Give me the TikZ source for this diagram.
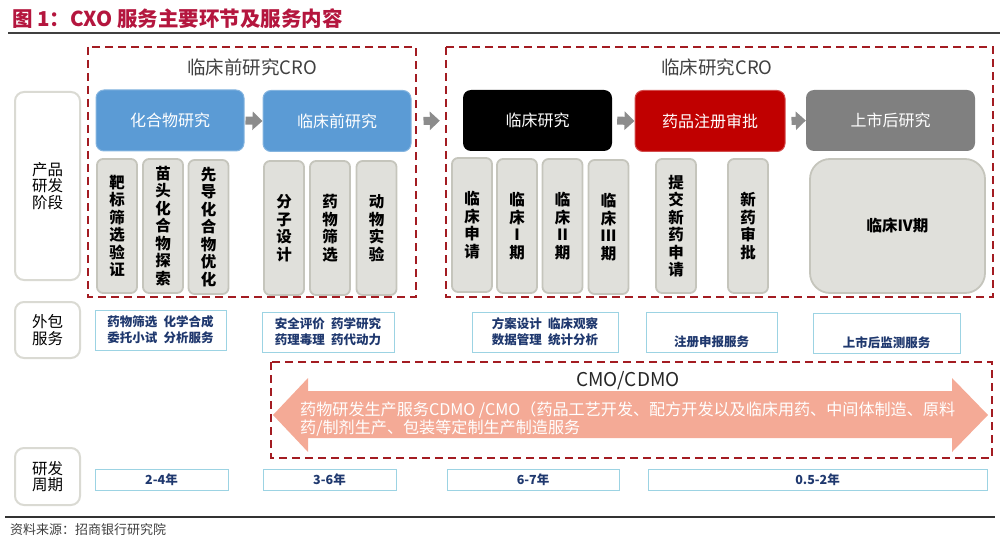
\documentclass[tikz,border=0pt]{standalone}
\usepackage{fontspec}
\setmainfont{Noto Sans CJK SC}
\usetikzlibrary{arrows.meta}
\definecolor{titlered}{RGB}{180,22,62}
\definecolor{stageblue}{RGB}{91,155,213}
\definecolor{stagered}{RGB}{192,0,0}
\definecolor{stagegray}{RGB}{128,128,128}
\definecolor{vfill}{RGB}{224,224,219}
\definecolor{vborder}{RGB}{197,197,188}
\definecolor{lborder}{RGB}{218,218,211}
\definecolor{oborder}{RGB}{156,211,227}
\definecolor{navy}{RGB}{31,56,110}
\definecolor{dashred}{RGB}{163,28,34}
\definecolor{salmon}{RGB}{244,170,150}
\definecolor{arrowgray}{RGB}{140,140,140}
\definecolor{darktext}{RGB}{64,64,64}
\tikzset{
  stagebox/.style={rounded corners=8pt, minimum width=#1, minimum height=61pt, inner sep=0pt, text=white, font=\fontsize{16}{18}\selectfont},
  vbox/.style={rounded corners=6pt, fill=vfill, draw=vborder, line width=1.8pt, minimum width=40pt, minimum height=134pt, inner sep=0pt, align=center, font=\fontsize{15.5}{17.5}\selectfont\bfseries, text=black},
  lbox/.style={rounded corners=9pt, fill=white, draw=lborder, line width=2pt, minimum width=65pt, inner sep=0pt, align=center, font=\fontsize{15.5}{16.5}\selectfont, text=black},
  obox/.style={draw=oborder, line width=1pt, fill=white, minimum width=#1, minimum height=40pt, inner sep=0pt},
  otext/.style={align=left, font=\fontsize{12.5}{16}\selectfont\bfseries, text=navy, inner sep=0pt},
  pbox/.style={draw=oborder, line width=1pt, fill=white, minimum width=#1, minimum height=21pt, inner sep=0pt, font=\fontsize{12.5}{14}\selectfont\bfseries, text=navy},
  dbox/.style={draw=dashred, line width=2.2pt, dash pattern=on 8pt off 5pt},
  garrow/.style={draw=arrowgray, line width=8pt, -{Triangle[length=10pt,width=18pt]}},
  grouptitle/.style={font=\fontsize{18.5}{20}\selectfont, text=darktext, inner sep=0pt}
}
\begin{document}
\begin{tikzpicture}[x=1pt,y=-1pt]
\useasboundingbox (0,0) rectangle (1000,540);
% title
\node[anchor=west, inner sep=0pt, font=\fontsize{20.5}{22}\selectfont\bfseries, text=titlered] (title) at (12,19) {图 1：CXO 服务主要环节及服务内容};
\draw[line width=2pt, draw=darktext] (8,33) -- (1000,33);
% dashed groups
\draw[dbox] (88,47) rectangle (416,297);
\draw[dbox] (446,47) rectangle (993,297);
\draw[dbox] (271,362) rectangle (992,458);
\node[grouptitle] (g1) at (252,67) {临床前研究CRO};
\node[grouptitle] (g2) at (717,67) {临床研究CRO};
% left labels
\node[lbox, minimum height=188pt] (l1) at (47.5,186) {产品\\研发\\阶段};
\node[lbox, minimum height=56pt] (l2) at (47.5,330) {外包\\服务};
\node[lbox, minimum height=57pt] (l3) at (47.5,476.5) {研发\\周期};
% stage boxes
\node[stagebox=148pt, fill=stageblue, draw=stageblue!75!white, line width=1pt] (s1) at (170,120.5) {化合物研究};
\node[stagebox=148pt, fill=stageblue, draw=stageblue!75!white, line width=1pt] (s2) at (337,121) {临床前研究};
\node[stagebox=149pt, fill=black] (s3) at (537.5,120.5) {临床研究};
\node[stagebox=150pt, fill=stagered, draw=stagered!70!white, line width=1pt] (s4) at (710,121) {药品注册审批};
\node[stagebox=169pt, fill=stagegray] (s5) at (890.5,120.5) {上市后研究};
% arrows between stages
\draw[garrow] ([xshift=1pt]s1.east) -- (s2.west);
\draw[garrow, shorten <=12pt, shorten >=23pt] (s2.east) -- (s3.west);
\draw[garrow, shorten <=5pt] (s3.east) -- (s4.west);
\draw[garrow, shorten <=6pt] (s4.east) -- (s5.west);
% vertical boxes left
\node[vbox] (v1) at (117,226) {靶\\标\\筛\\选\\验\\证};
\node[vbox] (v2) at (163,226) {苗\\头\\化\\合\\物\\探\\索};
\node[vbox] (v3) at (208.5,227) {先\\导\\化\\合\\物\\优\\化};
\node[vbox] (v4) at (284,228) {分\\子\\设\\计};
\node[vbox] (v5) at (330,228) {药\\物\\筛\\选};
\node[vbox] (v6) at (376.5,228) {动\\物\\实\\验};
% vertical boxes right
\node[vbox] (v7) at (472,225) {临\\床\\申\\请};
\node[vbox] (v8) at (517,226) {临\\床\\I\\期};
\node[vbox] (v9) at (562.5,226) {临\\床\\II\\期};
\node[vbox] (v10) at (608.5,227) {临\\床\\III\\期};
\node[vbox] (v11) at (676,226) {提\\交\\新\\药\\申\\请};
\node[vbox] (v12) at (748,226) {新\\药\\审\\批};
\node[vbox, rounded corners=20pt, minimum width=175pt] (v13) at (897.5,226) {临床IV期};
% outsourcing
\node[obox=131pt] (o1) at (160.5,330) {};
\node[otext] at (o1.center) {药物筛选\enspace 化学合成\\委托小试\enspace 分析服务};
\node[obox=132pt] (o2) at (328,332) {};
\node[otext] at (o2.center) {安全评价\enspace 药学研究\\药理毒理\enspace 药代动力};
\node[obox=146pt] (o3) at (545,332) {};
\node[otext] at (o3.center) {方案设计\enspace 临床观察\\数据管理\enspace 统计分析};
\node[obox=131pt] (o4) at (711.5,332.5) {};
\node[otext] at ([yshift=-9pt]o4.center) {注册申报服务};
\node[obox=147pt] (o5) at (886.5,333) {};
\node[otext] at ([yshift=-10pt]o5.center) {上市后监测服务};
% CMO/CDMO double arrow
\fill[salmon] (273,415) -- (308,378) -- (308,391) -- (952,391) -- (952,378) -- (988,415) -- (952,452) -- (952,438) -- (308,438) -- (308,452) -- cycle;
\node[grouptitle, text=black!85, font=\fontsize{19}{21}\selectfont] (cmo) at (628,381) {CMO/CDMO};
\node[anchor=west, inner sep=0pt, text=white, font=\fontsize{16.1}{17}\selectfont] (c1) at (300,410) {药物研发生产服务CDMO /CMO（药品工艺开发、配方开发以及临床用药、中间体制造、原料};
\node[anchor=west, inner sep=0pt, text=white, font=\fontsize{16.1}{17}\selectfont] (c2) at (300,428) {药/制剂生产、包装等定制生产制造服务};
% periods
\node[pbox=133pt] (p1) at (161.5,479.5) {2-4年};
\node[pbox=133pt] (p2) at (329.5,479.5) {3-6年};
\node[pbox=172pt] (p3) at (533,479.5) {6-7年};
\node[pbox=339pt] (p4) at (817.5,479.5) {0.5-2年};
% source
\draw[line width=1.6pt, draw=black!80] (5,517) -- (995,517);
\node[anchor=west, inner sep=0pt, font=\fontsize{13}{15}\selectfont, text=darktext] (src) at (10,530) {资料来源：招商银行研究院};
\end{tikzpicture}
\end{document}
